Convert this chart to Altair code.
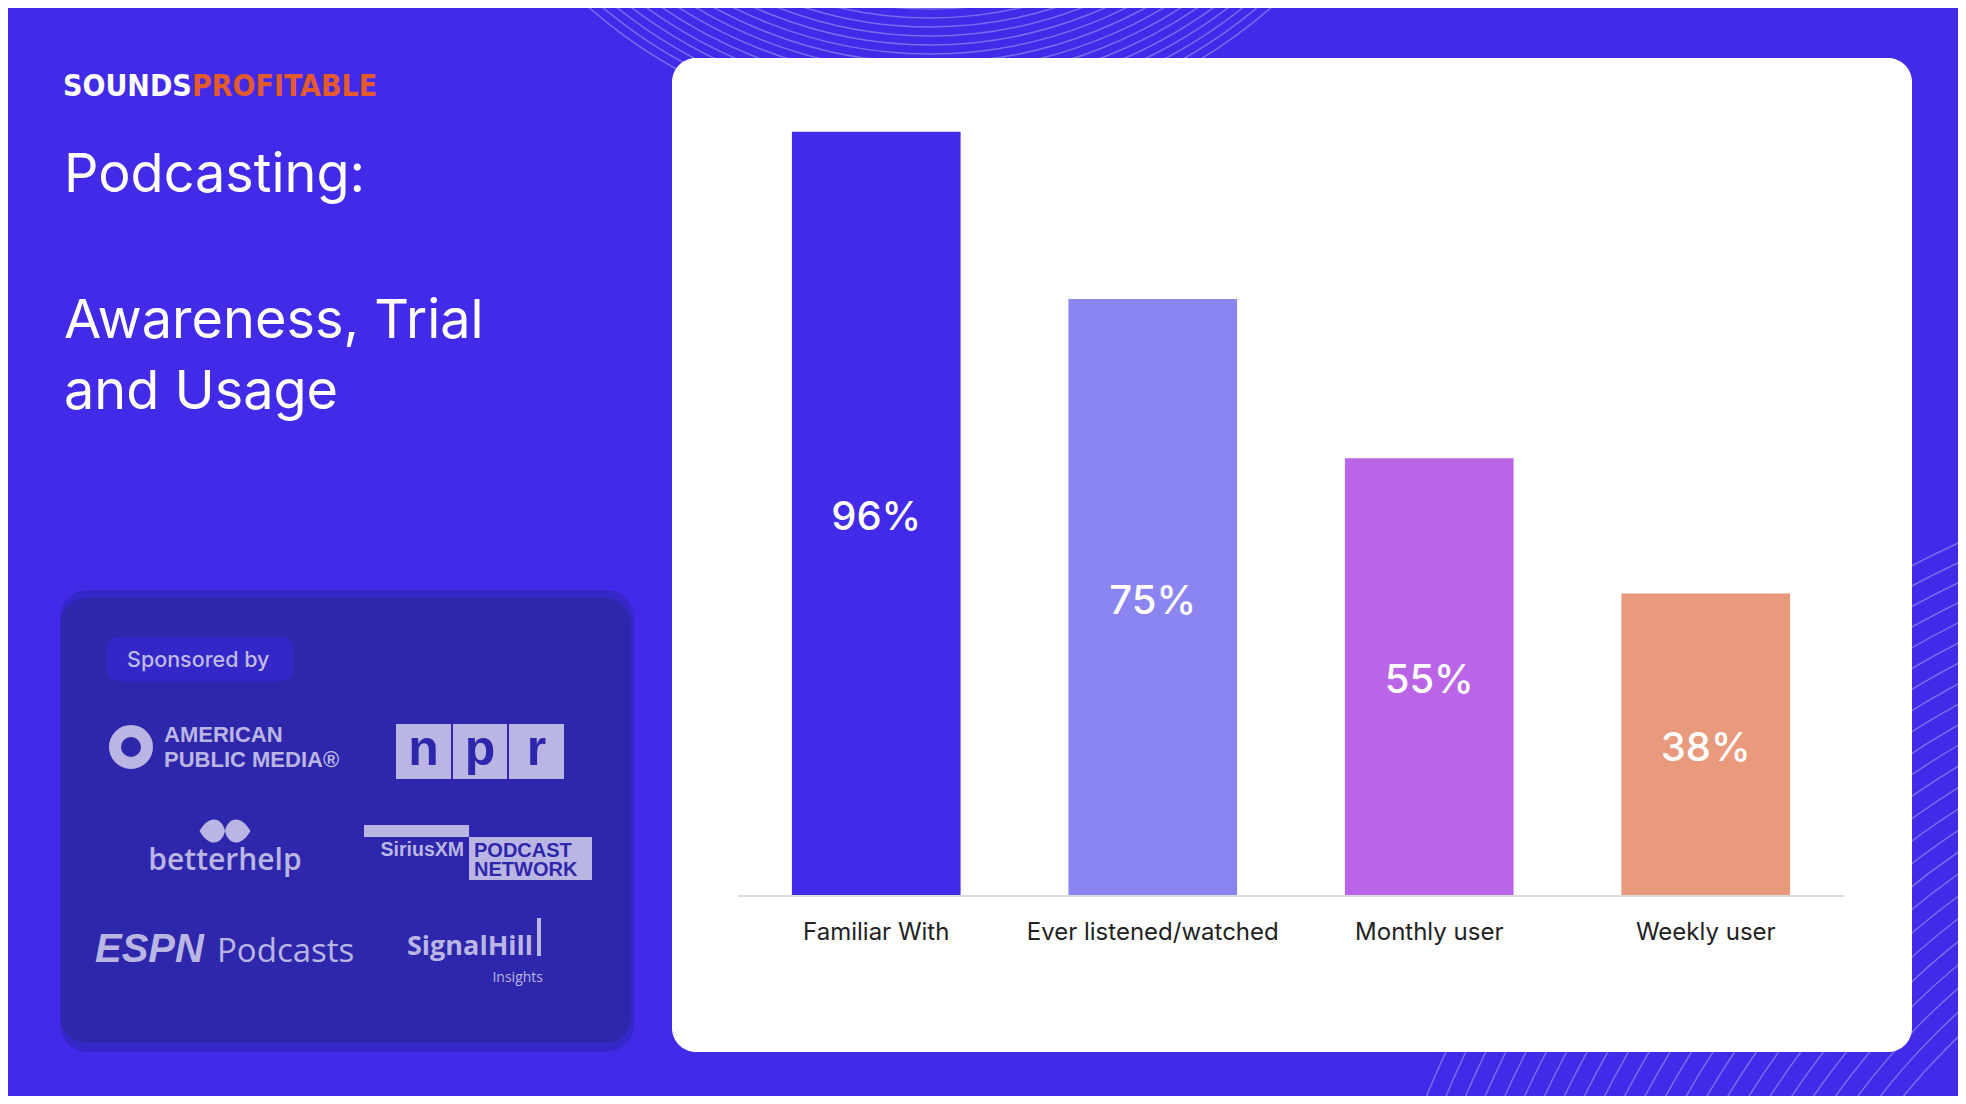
import altair as alt
import pandas as pd

# ---------------- data ----------------
categories = ["Familiar With", "Ever listened/watched", "Monthly user", "Weekly user"]
values = [96, 75, 55, 38]
value_labels = ["96%", "75%", "55%", "38%"]
bar_colors = ["#412AE8", "#8A85F0", "#BA64E8", "#E99A7D"]

title_lines = ["Podcasting:", "Awareness, Trial", "and Usage"]
sponsor_label = "Sponsored by"

# decorative background line radii
top_ring_radii = [385, 394, 403, 412, 421, 430, 439, 448, 457, 466, 475, 484, 493, 502, 511, 520]
right_ring_radii = [640, 658, 676, 694, 712, 730, 748, 766, 784, 802, 820, 838, 856, 874,
                    892, 910, 928, 946, 964, 982, 1000, 1018, 1036, 1054]

# ---------------- styles ----------------
BG = "#412AE8"
PANEL = "#2E27AB"
LAV = "#BAB6E4"
LINE = "#8A84F0"
FONT = "Inter"
W, H = 1950, 1088

one = pd.DataFrame({"k": [0]})


def txt(text, x, y, size, color, weight="normal", font=FONT, align="left",
        baseline="alphabetic", style="normal"):
    return alt.Chart(one).mark_text(
        text=text, font=font, fontSize=size, fontWeight=weight, color=color,
        align=align, baseline=baseline, fontStyle=style
    ).encode(x=alt.value(x), y=alt.value(y))


def box(x, x2, y, y2, color, radius=0):
    return alt.Chart(one).mark_rect(color=color, cornerRadius=radius).encode(
        x=alt.value(x), x2=alt.value(x2), y=alt.value(y), y2=alt.value(y2))


def rings(radii, cx, cy):
    # Vega circle symbol: radius = sqrt(size) / 2
    return alt.Chart(pd.DataFrame({"r": radii})).transform_calculate(
        s="4 * datum.r * datum.r"
    ).mark_point(shape="circle", filled=False, stroke=LINE, strokeWidth=1.5,
                 opacity=0.75).encode(
        x=alt.value(cx), y=alt.value(cy),
        size=alt.Size("s:Q", scale=None, legend=None))


layers = []

# background decoration
layers.append(rings(top_ring_radii, 922, -393))
layers.append(rings(right_ring_radii, 2392, 1492))

# white card
layers.append(box(664, 1904, 50, 1044, "#FFFFFF", 24))

# logo
LOGO_FONT = "DejaVu Sans Condensed, Liberation Sans Narrow, sans-serif"
layers.append(txt("SOUNDS", 55, 88, 30, "#FFFFFF", "bold", LOGO_FONT, "left"))
layers.append(txt("PROFITABLE", 184, 88, 30, "#E35B2C", "bold", LOGO_FONT, "left"))

# title
for line, yb in zip(title_lines, [184, 330, 401]):
    layers.append(txt(line, 56, yb, 54, "#FFFFFF"))

# sponsor panel
layers.append(box(52, 626, 582, 1044, "#3628C8", 28))
layers.append(box(53, 623, 590, 1035, PANEL, 26))
layers.append(box(99, 285, 629, 673, "#3427C8", 12))
layers.append(txt(sponsor_label, 119, 659, 21.5, "#BEB9E6", 500))

# American Public Media
layers.append(alt.Chart(one).mark_point(shape="circle", filled=False, stroke=LAV,
                                        strokeWidth=12, opacity=1).encode(
    x=alt.value(123), y=alt.value(739), size=alt.value(1024)))
layers.append(txt("AMERICAN", 156, 734, 22, LAV, "bold", "Liberation Sans"))
layers.append(txt("PUBLIC MEDIA®", 156, 759, 22, LAV, "bold", "Liberation Sans"))

# NPR
for (x0, x1), letter in zip([(388, 443), (445, 499), (501, 556)], ["n", "p", "r"]):
    layers.append(box(x0, x1, 716, 771, LAV))
    layers.append(txt(letter, (x0 + x1) / 2, 757, 50, PANEL, "bold", "Liberation Sans", "center"))

# betterhelp (icon drawn as a small symbol)
leaf = ("M -1 0 C -0.6 -0.7 -0.1 -0.5 0 0 C 0.1 0.5 0.6 0.7 1 0 "
        "C 0.6 -0.7 0.1 -0.5 0 0 C -0.1 0.5 -0.6 0.7 -1 0 Z")
layers.append(alt.Chart(one).mark_point(shape=leaf, filled=True, color=LAV, opacity=1).encode(
    x=alt.value(217), y=alt.value(823), size=alt.value(2600)))
layers.append(txt("betterhelp", 217, 862, 30, LAV, 600, "Open Sans", "center"))

# SiriusXM Podcast Network
layers.append(box(356, 461, 817, 829, LAV))
layers.append(txt("SiriusXM", 456, 848, 19.5, LAV, "bold", "Liberation Sans", "right"))
layers.append(box(461, 584, 829, 872, LAV))
layers.append(txt("PODCAST", 466, 849, 20, PANEL, "bold", "Liberation Sans"))
layers.append(txt("NETWORK", 466, 868, 20, PANEL, "bold", "Liberation Sans"))

# ESPN Podcasts
layers.append(txt("ESPN", 87, 954, 40, LAV, 900, "Liberation Sans", "left", style="italic"))
layers.append(txt("Podcasts", 209, 954, 33, LAV, 500, "Open Sans"))

# Signal Hill
layers.append(txt("SignalHill", 399, 947, 27, LAV, "bold", "Open Sans"))
layers.append(box(529, 533, 910, 948, LAV))
layers.append(txt("Insights", 535, 974, 14, LAV, "normal", "Open Sans", "right"))

# ---------------- bar chart ----------------
df = pd.DataFrame({"category": categories, "value": values,
                   "label": value_labels, "color": bar_colors})
xscale = alt.Scale(domain=categories, range=[730, 1836], paddingInner=0.39, paddingOuter=0.195)
yscale = alt.Scale(domain=[0, 100], range=[888, 92])
X = alt.X("category:N", scale=xscale, axis=None, sort=categories)

bars = alt.Chart(df).mark_bar().encode(
    x=X, y=alt.Y("value:Q", scale=yscale, axis=None),
    color=alt.Color("color:N", scale=None, legend=None))

vlabels = alt.Chart(df).transform_calculate(mid="datum.value / 2").mark_text(
    font=FONT, fontSize=40, fontWeight=500, color="#FFFFFF", baseline="middle", dy=4
).encode(x=X, y=alt.Y("mid:Q", scale=yscale, axis=None), text="label:N")

clabels = alt.Chart(df).mark_text(
    font=FONT, fontSize=24, color="#222222", baseline="middle"
).encode(x=X, y=alt.value(925), text="category:N")

baseline_rule = alt.Chart(one).mark_rule(color="#DCDCDC", strokeWidth=2).encode(
    x=alt.value(730), x2=alt.value(1836),
    y=alt.Y(datum=0, type="quantitative", scale=yscale, axis=None))

layers += [bars, baseline_rule, vlabels, clabels]

chart = alt.layer(*layers).properties(
    width=W, height=H, autosize=alt.AutoSizeParams(type="none"), padding=0,
    background=BG
).configure_view(stroke=None)

chart.save("out.html", embed_options={"renderer": "svg", "actions": False})
